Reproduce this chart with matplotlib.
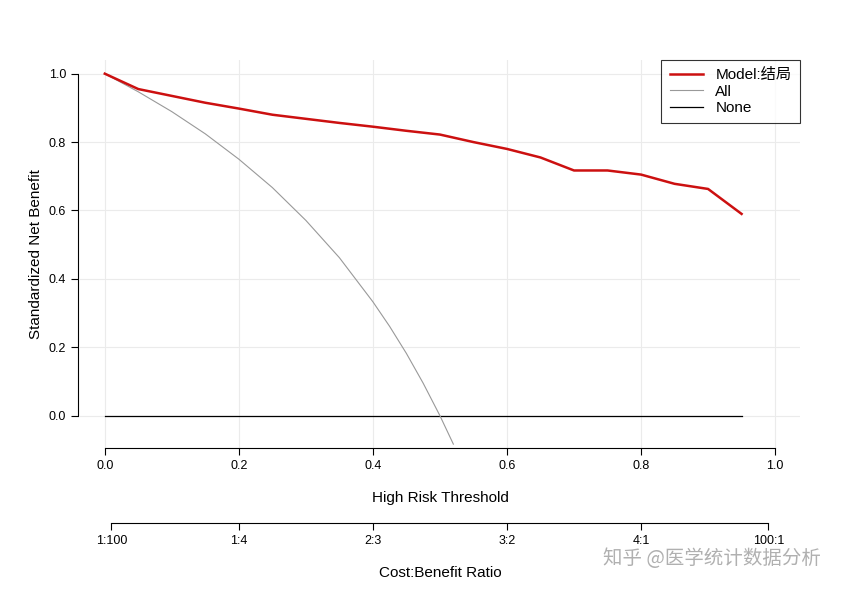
import matplotlib.pyplot as plt

plt.rcParams['font.family'] = ['Liberation Sans', 'Noto Sans CJK SC', 'DejaVu Sans']

thresholds = [0.0, 0.05, 0.10, 0.15, 0.20, 0.25, 0.30, 0.35, 0.40, 0.45,
              0.50, 0.55, 0.60, 0.65, 0.70, 0.75, 0.80, 0.85, 0.90, 0.95]
model_nb = [1.0, 0.955, 0.935, 0.915, 0.898, 0.88, 0.868, 0.856, 0.845, 0.833,
            0.822, 0.80, 0.78, 0.755, 0.717, 0.717, 0.705, 0.678, 0.663, 0.59]
all_x = [0.0, 0.05, 0.10, 0.15, 0.20, 0.25, 0.30, 0.35, 0.40, 0.425,
         0.45, 0.475, 0.50, 0.52]
all_nb = [1.0, 0.947, 0.889, 0.824, 0.75, 0.667, 0.571, 0.462, 0.333, 0.261,
          0.182, 0.095, 0.0, -0.083]
none_x = [0.0, 0.95]
none_nb = [0.0, 0.0]
cb_pos = [0.01, 0.2, 0.4, 0.6, 0.8, 0.99]
cb_labels = ['1:100', '1:4', '2:3', '3:2', '4:1', '100:1']

fig = plt.figure(figsize=(8.42, 5.94), dpi=100)
ax = fig.add_axes([0.095, 0.246, 0.855, 0.653])
ax.set_xlim(-0.037, 1.037)
ax.set_ylim(-0.094, 1.04)
ax.grid(True, color='#ebebeb', linewidth=0.8)
ax.set_axisbelow(True)

ax.plot(none_x, none_nb, color='black', linewidth=0.9, label='None')
ax.plot(all_x, all_nb, color='#999999', linewidth=0.8, label='All')
ax.plot(thresholds, model_nb, color='#cc1010', linewidth=1.8, label='Model:结局')

for s in ['top', 'right']:
    ax.spines[s].set_visible(False)
ax.spines['left'].set_bounds(0, 1)
ax.spines['bottom'].set_bounds(0, 1)
ax.spines['left'].set_position(('data', -0.04))
ax.set_xticks([0, 0.2, 0.4, 0.6, 0.8, 1.0])
ax.set_yticks([0, 0.2, 0.4, 0.6, 0.8, 1.0])
ax.set_xticklabels(['0.0', '0.2', '0.4', '0.6', '0.8', '1.0'])
ax.set_yticklabels(['0.0', '0.2', '0.4', '0.6', '0.8', '1.0'])
ax.tick_params(labelsize=9, length=5, width=0.8, direction='out')
ax.set_xlabel('High Risk Threshold', fontsize=11, labelpad=14)
ax.set_ylabel('Standardized Net Benefit', fontsize=11, labelpad=4)

h, l = ax.get_legend_handles_labels()
leg = ax.legend(h[::-1], l[::-1], loc='upper right', bbox_to_anchor=(1.0, 1.0),
                fontsize=11, frameon=True, fancybox=False, edgecolor='black',
                handlelength=2.2, borderpad=0.55, labelspacing=0.15,
                handletextpad=0.8, borderaxespad=0.0)
leg.get_frame().set_linewidth(0.8)

ax2 = fig.add_axes([0.095, 0.12, 0.855, 0.001])
ax2.set_xlim(-0.037, 1.037)
ax2.set_yticks([])
for s in ['top', 'right', 'left']:
    ax2.spines[s].set_visible(False)
ax2.spines['bottom'].set_bounds(0.01, 0.99)
ax2.set_xticks(cb_pos)
ax2.set_xticklabels(cb_labels)
ax2.tick_params(labelsize=9, length=5, width=0.8, direction='out')
ax2.set_xlabel('Cost:Benefit Ratio', fontsize=11, labelpad=14)

fig.text(0.975, 0.06, '知乎 @医学统计数据分析', ha='right', va='center',
         fontsize=14, color='#b0b0b0', family=['Noto Sans CJK SC', 'DejaVu Sans'])

fig.savefig('out.png', dpi=100)
